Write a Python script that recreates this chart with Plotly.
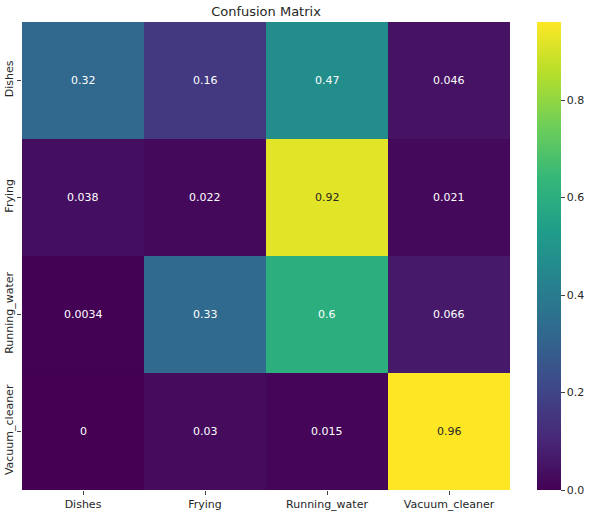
import plotly.graph_objects as go

labels = ["Dishes", "Frying", "Running_water", "Vacuum_cleaner"]
values = [
    [0.32, 0.16, 0.47, 0.046],
    [0.038, 0.022, 0.92, 0.021],
    [0.0034, 0.33, 0.6, 0.066],
    [0, 0.03, 0.015, 0.96],
]
cell_text = [
    ["0.32", "0.16", "0.47", "0.046"],
    ["0.038", "0.022", "0.92", "0.021"],
    ["0.0034", "0.33", "0.6", "0.066"],
    ["0", "0.03", "0.015", "0.96"],
]

zmax = max(max(r) for r in values)

fig = go.Figure(
    go.Heatmap(
        z=values,
        x=labels,
        y=labels,
        colorscale="Viridis",
        zmin=0,
        zmax=zmax,
        colorbar=dict(
            x=(537 - 22) / 488,
            xanchor="left",
            xpad=0,
            y=0.5,
            ypad=0,
            len=1,
            lenmode="fraction",
            thickness=24,
            outlinewidth=0,
            ticks="outside",
            ticklen=4,
            tickvals=[0, 0.2, 0.4, 0.6, 0.8],
            ticktext=["0.0", "0.2", "0.4", "0.6", "0.8"],
            tickfont=dict(size=11, color="#262626"),
        ),
        hoverinfo="skip",
    )
)

# cell labels: dark text on bright cells, white on dark ones
for i, row in enumerate(values):
    for j, v in enumerate(row):
        fig.add_annotation(
            x=labels[j],
            y=labels[i],
            text=cell_text[i][j],
            showarrow=False,
            font=dict(size=11, color="#262626" if v / zmax > 0.75 else "white"),
        )

fig.update_xaxes(
    ticks="outside",
    ticklen=4,
    tickfont=dict(size=11, color="#262626"),
    showgrid=False,
    zeroline=False,
    automargin=False,
)
fig.update_yaxes(
    autorange="reversed",
    ticks="outside",
    ticklen=4,
    tickangle=-90,
    tickfont=dict(size=11, color="#262626"),
    showgrid=False,
    zeroline=False,
    automargin=False,
)
fig.update_layout(
    width=596,
    height=525,
    margin=dict(l=22, r=86, t=22, b=35, autoexpand=False),
    title=dict(
        text="Confusion Matrix",
        x=(22 + 510) / 2 / 596,
        xanchor="center",
        y=1 - 11 / 525,
        yanchor="middle",
        font=dict(size=13, color="#262626"),
    ),
    font=dict(family="DejaVu Sans"),
    plot_bgcolor="white",
    paper_bgcolor="white",
)

# drop the browser's default 8px body margin so the figure sits at 0,0
fig.write_html(
    "out.html",
    config={"displayModeBar": False},
    post_script="document.body.style.margin = '0';",
)
